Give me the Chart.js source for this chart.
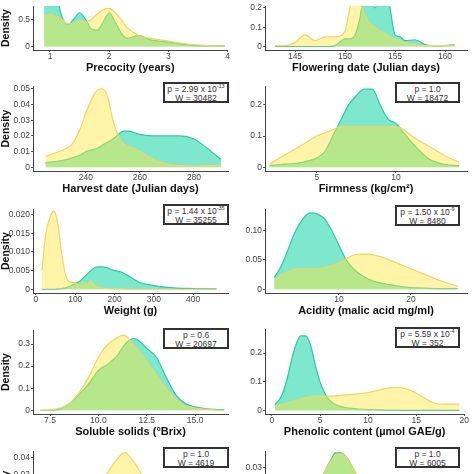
<!DOCTYPE html>
<html><head><meta charset="utf-8">
<script src="https://cdn.jsdelivr.net/npm/chart.js@4"></script>
<style>
html,body{margin:0;padding:0;background:#fff;width:474px;height:474px;overflow:hidden;position:relative;font-family:"Liberation Sans",Arial,sans-serif}
canvas{position:absolute}
.box{position:absolute;border:2px solid #333;box-sizing:border-box;font-size:8.5px;color:#333;text-align:center;line-height:9px;padding-top:1px;background:#fff}
.box sup{font-size:5.5px;line-height:0}
</style></head><body>
<script>
// ---- data ----
const precX=[0.9,1.0,1.1,1.2,1.3,1.4,1.5,1.6,1.7,1.8,1.9,2.0,2.1,2.2,2.3,2.5,2.7,3.0,3.3,3.6,3.95];
const precCyan=[1.2,1.3,1.0,0.55,0.4,0.5,0.62,0.5,0.32,0.3,0.45,0.62,0.45,0.25,0.15,0.2,0.12,0.08,0.03,0.01,0.01];
const precYellow=[0.55,0.6,0.55,0.5,0.42,0.42,0.48,0.45,0.5,0.6,0.68,0.7,0.62,0.5,0.35,0.2,0.15,0.1,0.05,0.02,0.01];
const flowX=[143,144,145,146,147,148,149,150,150.5,151,151.5,152,152.5,153,153.5,154,154.5,155,155.5,156,157,158,159,160,161];
const flowYellow=[0.005,0.005,0.02,0.06,0.03,0.05,0.05,0.08,0.2,0.25,0.22,0.16,0.12,0.1,0.08,0.07,0.05,0.04,0.03,0.02,0.01,0.005,0.005,0.005,0.01];
const flowCyan=[0,0,0,0,0,0,0.005,0.04,0.04,0.06,0.15,0.3,0.25,0.2,0.28,0.32,0.2,0.06,0.05,0.03,0.035,0.01,0.003,0.005,0.01];
const harvX=[225,230,235,238,240,242,244,246,248,250,252,254,256,258,260,265,270,275,280,285,290];
const harvYellow=[0.007,0.01,0.015,0.025,0.035,0.043,0.049,0.05,0.045,0.03,0.02,0.015,0.013,0.012,0.01,0.005,0.002,0.001,0.0005,0.001,0.001];
const harvCyan=[0.003,0.004,0.006,0.008,0.01,0.011,0.012,0.014,0.016,0.018,0.021,0.023,0.023,0.022,0.021,0.02,0.02,0.02,0.018,0.012,0.005];
const firmX=[2,3,4,5,5.5,6,6.5,7,7.5,8,8.5,9,9.5,10,10.5,11,12,13,14];
const firmCyan=[0.005,0.01,0.015,0.03,0.05,0.1,0.15,0.2,0.23,0.25,0.25,0.2,0.155,0.14,0.11,0.08,0.03,0.01,0.005];
const firmYellow=[0.01,0.04,0.07,0.1,0.11,0.12,0.13,0.13,0.13,0.13,0.13,0.13,0.13,0.13,0.12,0.1,0.07,0.04,0.015];
const wtX=[15,25,35,45,55,65,75,85,100,110,120,130,140,150,160,170,180,200,220,240,260,300,350,400,460];
const wtYellow=[0.005,0.015,0.019,0.021,0.018,0.01,0.004,0.002,0.0018,0.0012,0.002,0.0012,0.0022,0.001,0.0005,0.0003,0.0002,0.0001,0.0001,0,0,0,0,0,0];
const wtCyan=[0,0,0,0,0.0001,0.0002,0.0004,0.0008,0.0015,0.002,0.003,0.004,0.005,0.0058,0.006,0.006,0.0058,0.005,0.0045,0.0033,0.002,0.001,0.0004,0.0002,0.0001];
const acidX=[1,2,3,4,5,6,7,8,9,10,11,12,13,14,15,16,17,18,19,20,22,24,26.5];
const acidCyan=[0.02,0.04,0.07,0.1,0.12,0.13,0.128,0.12,0.1,0.075,0.05,0.035,0.025,0.018,0.013,0.01,0.008,0.006,0.004,0.003,0.002,0.001,0.001];
const acidYellow=[0.015,0.025,0.03,0.035,0.035,0.035,0.035,0.037,0.04,0.045,0.052,0.058,0.06,0.06,0.058,0.055,0.05,0.045,0.04,0.035,0.025,0.015,0.005];
const solX=[7,7.5,8,8.5,9,9.5,10,10.5,11,11.3,11.5,11.8,12,12.5,13,13.5,14,14.5,15,15.5,16,16.5];
const solYellow=[0,0.002,0.01,0.03,0.08,0.15,0.24,0.3,0.33,0.34,0.33,0.3,0.28,0.22,0.16,0.1,0.05,0.02,0.01,0.005,0.002,0];
const solCyan=[0,0,0.005,0.03,0.07,0.12,0.18,0.21,0.25,0.29,0.31,0.325,0.32,0.28,0.24,0.15,0.07,0.03,0.015,0.008,0.004,0.002];
const phenX=[0.3,1,1.5,2,2.5,3,3.5,4,4.5,5,5.5,6,7,8,9,10,11,12,13,14,15,16,17,18,19.5];
const phenCyan=[0.02,0.05,0.1,0.17,0.23,0.26,0.26,0.23,0.16,0.1,0.06,0.035,0.015,0.008,0.005,0.003,0.002,0.001,0.001,0,0,0,0,0,0];
const phenYellow=[0.015,0.02,0.025,0.03,0.035,0.04,0.045,0.048,0.05,0.05,0.05,0.05,0.052,0.055,0.058,0.062,0.07,0.078,0.08,0.075,0.06,0.04,0.025,0.022,0.022];
const b9X=[1,2,3,3.5,4,4.5,4.8,5,5.3,5.8,6.3,7,8,9];
const b9Yellow=[0.001,0.003,0.01,0.02,0.03,0.038,0.042,0.043,0.04,0.032,0.02,0.01,0.003,0.001];
const b9Cyan=[0.001,0.003,0.008,0.013,0.018,0.022,0.024,0.025,0.024,0.02,0.015,0.009,0.003,0.001];
const b10X=[1,2,2.5,3,3.5,3.8,4,4.3,4.7,5,5.5,6,7,8,9];
const b10Cyan=[0.001,0.006,0.012,0.02,0.03,0.035,0.038,0.038,0.035,0.03,0.02,0.012,0.005,0.002,0.001];
const b10Yellow=[0.001,0.006,0.012,0.02,0.03,0.034,0.037,0.0375,0.035,0.03,0.02,0.012,0.005,0.002,0.001];

const precTicks=[0,0.5], precLabels=["0","0.5"];
const flowTicks=[0,0.1,0.2], flowLabels=["0","0.1","0.2"];
const harvTicks=[0,0.01,0.02,0.03,0.04,0.05], harvLabels=["0","0.01","0.02","0.03","0.04","0.05"];
const firmTicks=[0,0.1,0.2], firmLabels=["0","0.1","0.2"];
const wtTicks=[0,0.005,0.01,0.015,0.02], wtLabels=["0","0.005","0.010","0.015","0.020"];
const acidTicks=[0,0.05,0.1], acidLabels=["0","0.05","0.10"];
const solTicks=[0,0.1,0.2,0.3], solLabels=["0","0.1","0.2","0.3"];
const phenTicks=[0,0.1,0.2], phenLabels=["0","0.1","0.2"];
const b9Ticks=[0.03,0.04], b9Labels=["0.03","0.04"];
const b10Ticks=[0.03], b10Labels=["0.03"];

const precXT=[1,2,3,4], flowXT=[145,150,155,160], harvXT=[240,260,280], firmXT=[5,10],
  wtXT=[0,100,200,300,400], acidXT=[10,20], solXT=[7.5,10,12.5,15], solXL=["7.5","10.0","12.5","15.0"], phenXT=[0,5,10,15,20];

// ---- drawing ----
function panel(o){
  const col=o.col, left=col?237:0, AY=col?28:33, W=col?232:230, AX=26;
  const cv=document.createElement('canvas');
  const H=(o.axis-o.top)+AX;
  const wrap=document.createElement('div');
  wrap.style.cssText=`position:absolute;left:${left}px;top:${o.top}px;width:${W}px;height:${H}px`;
  cv.style.left='0';cv.style.top='0';cv.style.width=W+'px';cv.style.height=H+'px';
  wrap.appendChild(cv);document.body.appendChild(wrap);
  const mk=(ys)=>ys.map((y,i)=>({x:o.x[i],y}));
  new Chart(cv,{type:'line',
    data:{datasets:[
      {data:mk(o.yellow),borderColor:'#f0d468',backgroundColor:'rgba(255,230,60,0.45)',fill:'origin',borderWidth:1.2,pointRadius:0,tension:0.4,cubicInterpolationMode:'monotone'},
      {data:mk(o.cyan),borderColor:'#2cc9a6',backgroundColor:'rgb(125,232,205)',fill:'origin',borderWidth:1.2,pointRadius:0,tension:0.4,cubicInterpolationMode:'monotone'}]},
    options:{responsive:false,animation:false,maintainAspectRatio:false,
      layout:{padding:{top:0,right:2,left:0,bottom:0},autoPadding:false},
      plugins:{legend:{display:false},tooltip:{enabled:false}},
      scales:{
        x:{type:'linear',min:o.xmin,max:o.xmax,
          afterBuildTicks:s=>{s.ticks=(o.xt||[]).map(v=>({value:v}));},
          afterFit:s=>{s.height=AX;},
          ticks:{font:{size:8.5,family:'Liberation Sans'},color:'#444',padding:0,maxRotation:0,autoSkip:false,
            callback:(v,i)=>o.xl?o.xl[i]:String(v)},
          grid:{drawOnChartArea:false,drawTicks:true,tickLength:2,color:'#555'},
          border:{display:true,color:'#444',width:1},
          title:{display:!!o.xtitle,text:o.xtitle,font:{size:11,weight:'bold',family:'Liberation Sans'},color:'#111',padding:{top:0,bottom:1}}},
        y:{min:o.ymin,max:o.ymax,
          afterBuildTicks:s=>{s.ticks=o.yt.map(v=>({value:v}));},
          afterFit:s=>{s.width=AY;},
          ticks:{font:{size:8.5,family:'Liberation Sans'},color:'#444',padding:1,autoSkip:false,
            callback:(v,i)=>o.yl[i]},
          grid:{drawOnChartArea:false,drawTicks:true,tickLength:2,color:'#555'},
          border:{display:true,color:'#444',width:1},
          title:{display:!col,text:'Density',font:{size:10.5,weight:'bold',family:'Liberation Sans'},color:'#111',padding:{top:0,bottom:0}}}
      }}});
  if(o.p){const b=document.createElement('div');b.className='box';
    const bx=col?395:163;
    b.style.cssText+=`left:${bx}px;top:${o.by}px;width:${col?65:66}px;height:21px`;
    b.innerHTML=o.p+'<br>'+o.w;document.body.appendChild(b);}
}
panel({col:0,top:0,axis:50,x:precX,cyan:precCyan,yellow:precYellow,xmin:0.713,xmax:4.0,xt:precXT,ymin:-0.065,ymax:0.742,yt:precTicks,yl:precLabels,xtitle:'Precocity (years)'});
panel({col:1,top:0,axis:50,x:flowX,cyan:flowCyan,yellow:flowYellow,xmin:142,xmax:162.2,xt:flowXT,ymin:-0.018,ymax:0.209,yt:flowTicks,yl:flowLabels,xtitle:'Flowering date (Julian days)'});
panel({col:0,top:80,axis:171,x:harvX,cyan:harvCyan,yellow:harvYellow,xmin:220.4,xmax:292.6,xt:harvXT,ymin:-0.0024,ymax:0.0518,yt:harvTicks,yl:harvLabels,xtitle:'Harvest date (Julian days)',p:'p = 2.99 x 10<sup>-13</sup>',w:'W = 30482',by:82});
panel({col:1,top:80,axis:171,x:firmX,cyan:firmCyan,yellow:firmYellow,xmin:1.71,xmax:14.5,xt:firmXT,ymin:-0.012,ymax:0.26,yt:firmTicks,yl:firmLabels,xtitle:'Firmness (kg/cm²)',p:'p = 1.0',w:'W = 18472',by:82});
panel({col:0,top:203,axis:293,x:wtX,cyan:wtCyan,yellow:wtYellow,xmin:-7.6,xmax:489,xt:wtXT,ymin:-0.001,ymax:0.0215,yt:wtTicks,yl:wtLabels,xtitle:'Weight (g)',p:'p = 1.44 x 10<sup>-35</sup>',w:'W = 35255',by:204});
panel({col:1,top:203,axis:293,x:acidX,cyan:acidCyan,yellow:acidYellow,xmin:-0.28,xmax:27.8,xt:acidXT,ymin:-0.0063,ymax:0.1365,yt:acidTicks,yl:acidLabels,xtitle:'Acidity (malic acid mg/ml)',p:'p = 1.50 x 10<sup>-9</sup>',w:'W = 8480',by:205});
panel({col:0,top:324,axis:414,x:solX,cyan:solCyan,yellow:solYellow,xmin:6.62,xmax:16.7,xt:solXT,xl:solXL,ymin:-0.017,ymax:0.363,yt:solTicks,yl:solLabels,xtitle:'Soluble solids (°Brix)',p:'p = 0.6',w:'W = 20697',by:328});
panel({col:1,top:323,axis:414,x:phenX,cyan:phenCyan,yellow:phenYellow,xmin:-0.72,xmax:20,xt:phenXT,ymin:-0.0125,ymax:0.284,yt:phenTicks,yl:phenLabels,xtitle:'Phenolic content (µmol GAE/g)',p:'p = 5.59 x 10<sup>-4</sup>',w:'W = 352',by:327});
panel({col:0,top:445,axis:528,x:b9X,cyan:b9Cyan,yellow:b9Yellow,xmin:0,xmax:10.6,xt:[],ymin:-0.0022,ymax:0.0439,yt:b9Ticks,yl:b9Labels,xtitle:'',p:'p = 1.0',w:'W = 4619',by:447});
panel({col:1,top:445,axis:528,x:b10X,cyan:b10Cyan,yellow:b10Yellow,xmin:0,xmax:11.5,xt:[],ymin:-0.0025,ymax:0.039,yt:b10Ticks,yl:b10Labels,xtitle:'',p:'p = 1.0',w:'W = 6005',by:447});
</script></body></html>
